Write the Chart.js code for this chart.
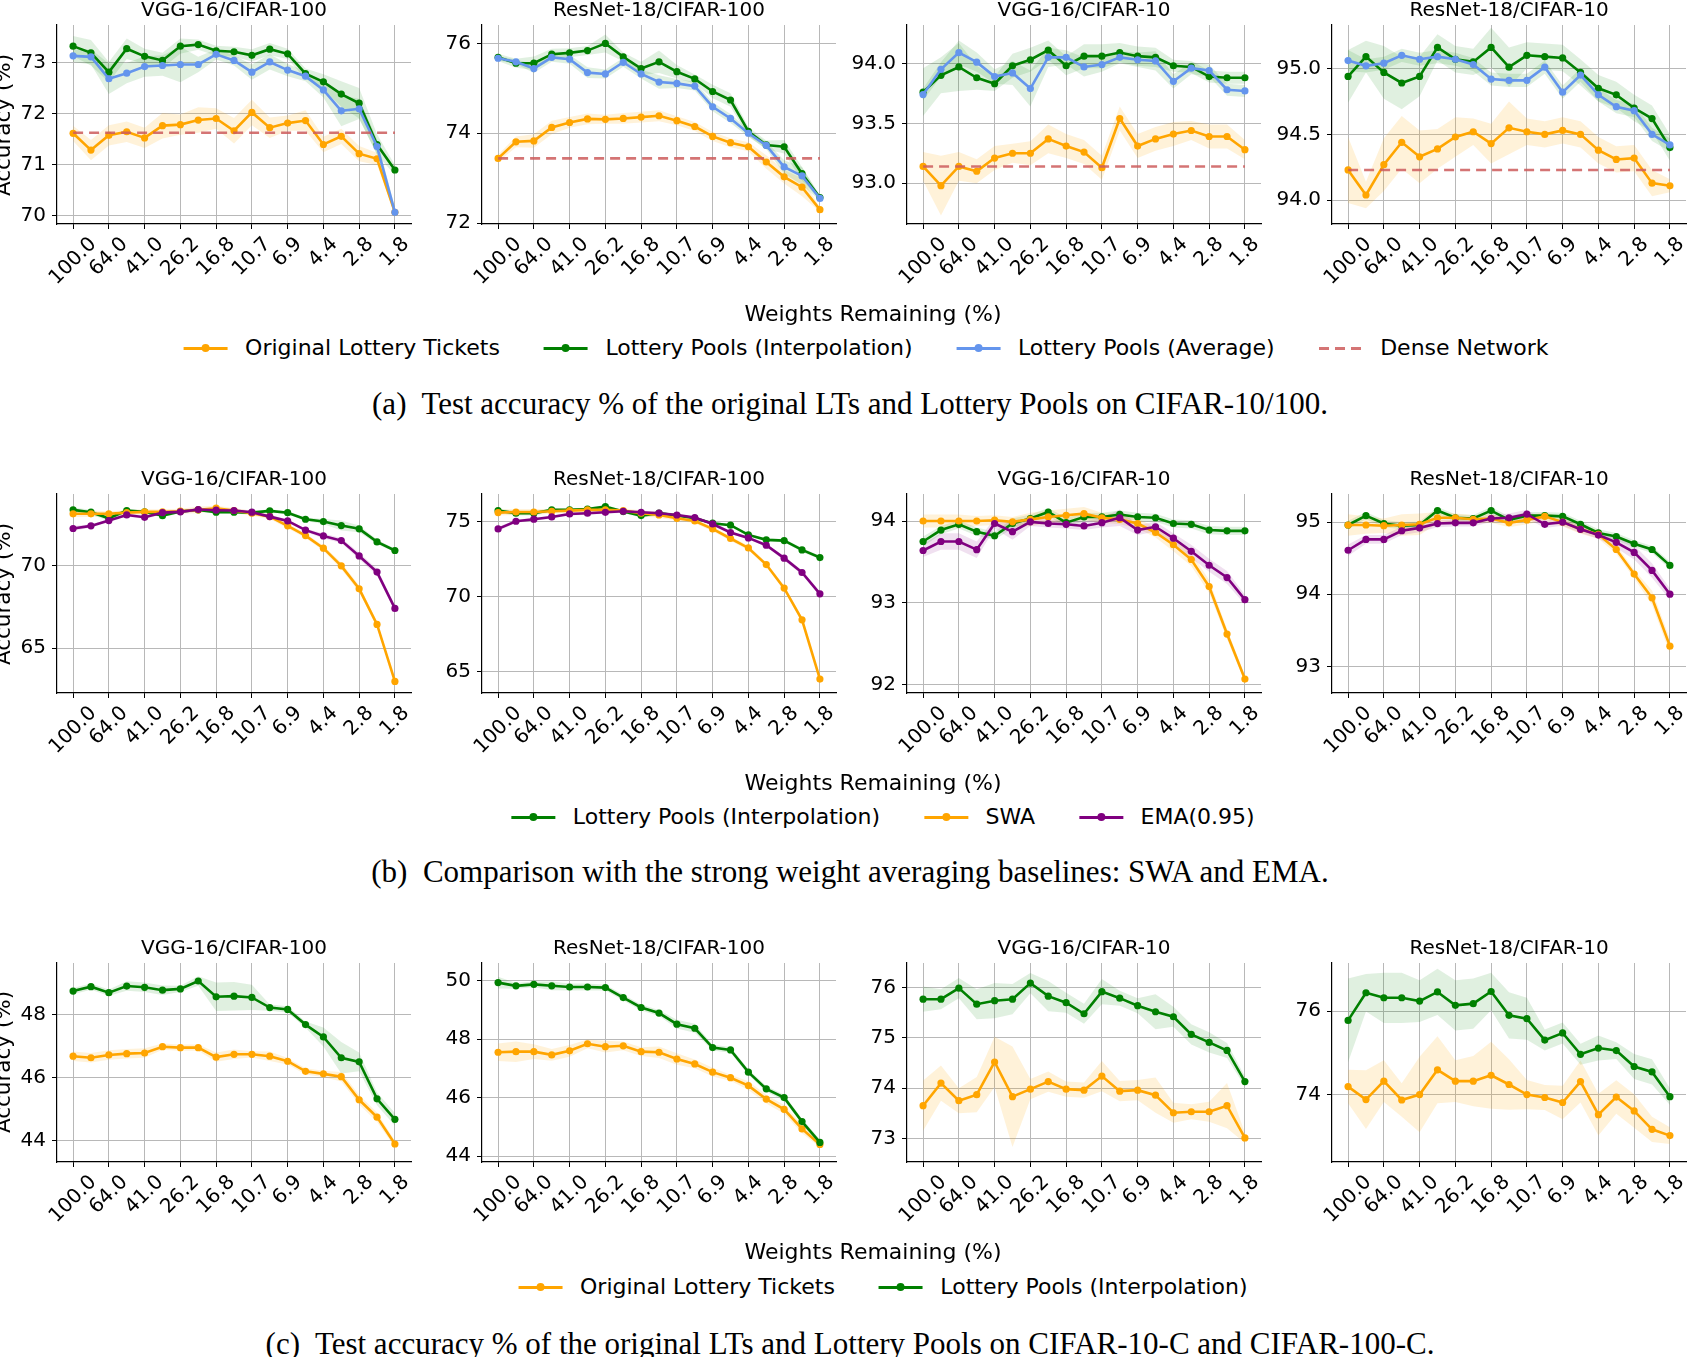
<!DOCTYPE html>
<html>
<head>
<meta charset="utf-8">
<script src="https://cdn.jsdelivr.net/npm/chart.js@4.4.1/dist/chart.umd.min.js"></script>
<style>
body { margin: 0; background: #fff; width: 1701px; height: 1357px; position: relative; overflow: hidden; font-family: "DejaVu Sans", sans-serif; color: #000; }
canvas { position: absolute; }
.txt { position: absolute; white-space: nowrap; font-size: 22px; line-height: 1; transform: translate(-50%, -50%); }
.ylab { position: absolute; white-space: nowrap; font-size: 21.5px; line-height: 1; transform: translate(-50%, -50%) rotate(-90deg); }
.legend { position: absolute; display: flex; align-items: center; white-space: nowrap; font-size: 22px; line-height: 1; transform: translate(-50%, -50%); }
.item { display: flex; align-items: center; margin: 0 22px; }
.handle { position: relative; width: 44px; height: 3px; margin-right: 17.5px; }
.handle .dot { position: absolute; left: 18px; top: -2.5px; width: 8px; height: 8px; border-radius: 50%; }
.caption { position: absolute; white-space: nowrap; font-family: "Liberation Serif", serif; font-size: 31px; line-height: 1; transform: translate(-50%, -50%); }
</style>
</head>
<body>
<script>
// x axis: 19 pruning rounds, every second one gets a label
const xTickIdx = [0, 2, 4, 6, 8, 10, 12, 14, 16, 18];
const xTickLabels = ['100.0', '64.0', '41.0', '26.2', '16.8', '10.7', '6.9', '4.4', '2.8', '1.8'];

// (a) CIFAR-10/100
const a1Interp = [73.33,73.2,72.82,73.28,73.13,73.05,73.33,73.36,73.24,73.22,73.15,73.27,73.18,72.79,72.63,72.39,72.21,71.4,70.9];
const a1Avg    = [73.14,73.12,72.69,72.8,72.93,72.95,72.97,72.97,73.17,73.05,72.82,73.02,72.86,72.74,72.47,72.06,72.1,71.36,70.07];
const a1Orig   = [71.62,71.29,71.58,71.65,71.53,71.77,71.79,71.88,71.91,71.67,72.03,71.73,71.82,71.87,71.4,71.56,71.22,71.12,70.07];
const a1Dense  = 71.63;
const a1InterpSd = [0.2,0.25,0.2,0.2,0.15,0.15,0.15,0.1,0.1,0.1,0.12,0.12,0.1,0.1,0.15,0.25,0.3,0.2,0.1];
const a1AvgSd    = [0.12,0.15,0.3,0.2,0.2,0.2,0.35,0.15,0.1,0.1,0.15,0.15,0.12,0.1,0.15,0.3,0.2,0.15,0.1];
const a1OrigSd   = [0.15,0.2,0.2,0.2,0.2,0.25,0.2,0.25,0.2,0.25,0.25,0.2,0.15,0.2,0.15,0.15,0.15,0.12,0.05];

const a2Interp = [75.69,75.56,75.56,75.76,75.79,75.84,76.0,75.7,75.44,75.59,75.37,75.21,74.93,74.74,74.04,73.74,73.7,73.1,72.57];
const a2Avg    = [75.67,75.59,75.44,75.69,75.65,75.35,75.32,75.58,75.32,75.14,75.11,75.05,74.59,74.33,74.0,73.73,73.25,73.05,72.55];
const a2Orig   = [73.44,73.81,73.83,74.13,74.24,74.32,74.31,74.33,74.36,74.39,74.28,74.15,73.93,73.79,73.7,73.36,73.03,72.8,72.3];
const a2Dense  = 73.44;
const a2InterpSd = [0.08,0.1,0.15,0.12,0.1,0.1,0.2,0.1,0.15,0.25,0.15,0.1,0.15,0.15,0.1,0.1,0.15,0.15,0.05];
const a2AvgSd    = [0.05,0.05,0.1,0.1,0.1,0.12,0.1,0.1,0.1,0.15,0.1,0.1,0.1,0.1,0.08,0.08,0.15,0.2,0.05];
const a2OrigSd   = [0.08,0.12,0.15,0.15,0.12,0.12,0.1,0.12,0.12,0.12,0.1,0.1,0.1,0.1,0.1,0.15,0.15,0.2,0.05];

const a3Interp = [93.76,93.9,93.97,93.88,93.83,93.98,94.03,94.11,93.98,94.06,94.06,94.09,94.06,94.05,93.98,93.97,93.89,93.88,93.88];
const a3Avg    = [93.74,93.95,94.09,94.01,93.89,93.92,93.79,94.05,94.05,93.97,93.99,94.05,94.03,94.02,93.85,93.96,93.94,93.78,93.77];
const a3Orig   = [93.14,92.98,93.14,93.1,93.21,93.25,93.25,93.37,93.31,93.26,93.13,93.54,93.31,93.37,93.41,93.44,93.39,93.39,93.28];
const a3Dense  = 93.14;
const a3InterpSd = [0.2,0.15,0.2,0.1,0.06,0.1,0.1,0.08,0.08,0.1,0.1,0.08,0.08,0.08,0.05,0.05,0.05,0.05,0.05];
const a3AvgSd    = [0.05,0.06,0.1,0.08,0.06,0.1,0.15,0.08,0.06,0.08,0.06,0.05,0.06,0.08,0.06,0.05,0.05,0.05,0.05];
const a3OrigSd   = [0.12,0.25,0.12,0.1,0.1,0.08,0.1,0.12,0.1,0.1,0.1,0.1,0.1,0.1,0.1,0.08,0.1,0.1,0.08];

const a4Interp = [94.94,95.09,94.97,94.89,94.94,95.16,95.07,95.05,95.16,95.01,95.1,95.09,95.08,94.97,94.85,94.8,94.7,94.62,94.4];
const a4Avg    = [95.06,95.02,95.04,95.1,95.07,95.09,95.07,95.03,94.92,94.91,94.91,95.01,94.82,94.95,94.8,94.71,94.68,94.5,94.42];
const a4Orig   = [94.23,94.04,94.27,94.44,94.33,94.39,94.48,94.52,94.43,94.55,94.52,94.5,94.53,94.5,94.38,94.31,94.32,94.13,94.11];
const a4Dense  = 94.23;
const a4InterpSd = [0.2,0.12,0.2,0.2,0.15,0.1,0.1,0.1,0.15,0.15,0.1,0.1,0.1,0.1,0.1,0.1,0.1,0.1,0.1];
const a4AvgSd    = [0.08,0.05,0.05,0.05,0.05,0.05,0.05,0.05,0.05,0.05,0.05,0.05,0.05,0.05,0.05,0.05,0.05,0.05,0.05];
const a4OrigSd   = [0.25,0.1,0.2,0.2,0.2,0.15,0.15,0.1,0.15,0.2,0.1,0.1,0.1,0.1,0.1,0.1,0.1,0.1,0.05];

// (b) SWA / EMA baselines
const b1Interp = [73.37,73.23,72.86,73.33,73.25,73.02,73.27,73.37,73.23,73.23,73.2,73.31,73.2,72.8,72.66,72.42,72.22,71.43,70.91];
const b1Swa    = [73.13,73.13,73.13,73.2,73.25,73.25,73.29,73.37,73.47,73.33,73.17,72.96,72.4,71.81,71.05,69.98,68.59,66.43,62.98];
const b1Ema    = [72.24,72.4,72.72,73.06,72.92,73.2,73.25,73.39,73.35,73.33,73.23,72.96,72.7,72.14,71.79,71.51,70.58,69.6,67.4];
const b1InterpSd = [0.15,0.15,0.15,0.1,0.1,0.1,0.1,0.1,0.1,0.1,0.1,0.1,0.1,0.1,0.15,0.3,0.2,0.15,0.1];
const b1SwaSd    = [0.2,0.2,0.15,0.15,0.15,0.15,0.15,0.2,0.15,0.15,0.15,0.15,0.15,0.15,0.15,0.2,0.2,0.2,0.1];
const b1EmaSd    = [0.15,0.1,0.1,0.1,0.1,0.1,0.1,0.1,0.1,0.1,0.1,0.1,0.1,0.1,0.15,0.15,0.2,0.2,0.2];

const b2Interp = [75.73,75.56,75.56,75.78,75.78,75.84,76.0,75.67,75.4,75.56,75.4,75.22,74.89,74.76,74.11,73.78,73.73,73.11,72.6];
const b2Swa    = [75.6,75.64,75.64,75.69,75.73,75.78,75.78,75.73,75.56,75.44,75.22,75.04,74.51,73.87,73.24,72.13,70.56,68.44,64.49];
const b2Ema    = [74.51,75.02,75.16,75.31,75.51,75.56,75.62,75.69,75.62,75.56,75.44,75.27,74.84,74.27,73.91,73.42,72.56,71.6,70.18];
const b2InterpSd = [0.15,0.15,0.15,0.1,0.1,0.1,0.1,0.1,0.15,0.15,0.1,0.1,0.1,0.1,0.1,0.1,0.1,0.15,0.1];
const b2SwaSd    = [0.2,0.2,0.2,0.15,0.15,0.15,0.15,0.15,0.2,0.2,0.15,0.15,0.15,0.15,0.15,0.15,0.15,0.2,0.1];
const b2EmaSd    = [0.15,0.1,0.1,0.1,0.1,0.1,0.1,0.1,0.1,0.1,0.1,0.1,0.1,0.1,0.1,0.1,0.15,0.15,0.15];

const b3Interp = [93.75,93.89,93.96,93.87,93.82,93.97,94.03,94.11,93.98,94.05,94.05,94.08,94.05,94.04,93.97,93.96,93.89,93.88,93.88];
const b3Swa    = [94.0,94.0,94.0,94.0,94.01,93.99,94.02,94.05,94.07,94.09,94.04,94.02,93.97,93.86,93.71,93.53,93.2,92.62,92.07];
const b3Ema    = [93.64,93.75,93.75,93.65,93.97,93.87,93.99,93.97,93.96,93.94,93.98,94.04,93.89,93.93,93.79,93.63,93.46,93.31,93.04];
const b3InterpSd = [0.06,0.05,0.05,0.05,0.05,0.06,0.05,0.05,0.06,0.05,0.05,0.05,0.05,0.05,0.05,0.05,0.05,0.05,0.05];
const b3SwaSd    = [0.08,0.08,0.08,0.06,0.06,0.06,0.08,0.08,0.08,0.08,0.06,0.06,0.06,0.06,0.08,0.08,0.08,0.06,0.04];
const b3EmaSd    = [0.08,0.1,0.1,0.1,0.06,0.1,0.05,0.05,0.05,0.05,0.06,0.1,0.06,0.06,0.06,0.08,0.08,0.08,0.06];

const b4Interp = [94.96,95.09,94.98,94.95,94.96,95.16,95.06,95.05,95.16,95.03,95.09,95.09,95.08,94.97,94.85,94.8,94.7,94.62,94.4];
const b4Swa    = [94.96,94.96,94.95,94.96,94.97,95.06,95.06,95.04,95.05,94.99,95.03,95.08,95.0,94.9,94.83,94.62,94.28,93.95,93.28];
const b4Ema    = [94.61,94.76,94.76,94.88,94.92,94.98,94.99,94.99,95.05,95.06,95.11,94.97,95.0,94.9,94.82,94.72,94.58,94.33,94.0];
const b4InterpSd = [0.06,0.05,0.05,0.05,0.05,0.05,0.05,0.05,0.05,0.05,0.05,0.05,0.05,0.05,0.05,0.05,0.05,0.05,0.05];
const b4SwaSd    = [0.15,0.12,0.1,0.15,0.15,0.08,0.06,0.06,0.06,0.06,0.06,0.06,0.06,0.06,0.06,0.06,0.06,0.1,0.1];
const b4EmaSd    = [0.08,0.06,0.06,0.06,0.06,0.05,0.05,0.05,0.05,0.06,0.06,0.05,0.05,0.05,0.05,0.08,0.1,0.1,0.08];

// (c) CIFAR-10-C / CIFAR-100-C
const c1Interp = [48.74,48.88,48.69,48.9,48.86,48.77,48.81,49.06,48.56,48.58,48.54,48.22,48.16,47.68,47.29,46.63,46.5,45.33,44.68];
const c1Orig   = [46.68,46.63,46.72,46.76,46.78,46.98,46.95,46.95,46.65,46.74,46.74,46.68,46.52,46.2,46.12,46.03,45.3,44.75,43.9];
const c1InterpSd = [0.1,0.1,0.1,0.15,0.15,0.15,0.1,0.15,0.45,0.45,0.4,0.1,0.1,0.1,0.3,0.5,0.3,0.2,0.2];
const c1OrigSd   = [0.15,0.15,0.15,0.15,0.15,0.1,0.1,0.1,0.15,0.15,0.1,0.15,0.1,0.1,0.1,0.15,0.15,0.15,0.1];

const c2Interp = [49.93,49.82,49.87,49.82,49.78,49.78,49.76,49.42,49.08,48.89,48.51,48.37,47.71,47.63,46.87,46.3,46.0,45.18,44.47];
const c2Orig   = [47.55,47.57,47.57,47.46,47.6,47.84,47.74,47.77,47.57,47.55,47.32,47.15,46.87,46.68,46.41,45.95,45.6,44.93,44.4];
const c2InterpSd = [0.2,0.1,0.1,0.15,0.12,0.12,0.1,0.1,0.1,0.1,0.15,0.15,0.1,0.1,0.1,0.1,0.1,0.1,0.1];
const c2OrigSd   = [0.3,0.35,0.25,0.2,0.2,0.15,0.2,0.15,0.15,0.2,0.2,0.15,0.15,0.1,0.15,0.15,0.15,0.15,0.1];

const c3Interp = [75.77,75.77,75.99,75.67,75.74,75.77,76.09,75.83,75.7,75.48,75.92,75.79,75.64,75.52,75.42,75.07,74.91,74.75,74.13];
const c3Orig   = [73.65,74.1,73.75,73.87,74.52,73.83,73.98,74.13,73.98,73.96,74.24,73.94,73.96,73.86,73.51,73.53,73.53,73.65,73.01];
const c3InterpSd = [0.25,0.2,0.2,0.3,0.35,0.3,0.2,0.3,0.2,0.2,0.25,0.15,0.15,0.35,0.2,0.2,0.2,0.15,0.1];
const c3OrigSd   = [0.5,0.35,0.25,0.35,0.5,1.0,0.2,0.2,0.15,0.15,0.3,0.2,0.2,0.35,0.2,0.15,0.2,0.45,0.1];

const c4Interp = [75.78,76.44,76.32,76.32,76.24,76.46,76.14,76.18,76.47,75.9,75.82,75.31,75.48,74.97,75.12,75.06,74.68,74.55,73.96];
const c4Orig   = [74.2,73.89,74.33,73.88,74.01,74.6,74.33,74.33,74.47,74.25,74.01,73.94,73.82,74.32,73.53,73.95,73.62,73.18,73.03];
const c4InterpSd = [1.0,0.45,0.6,0.6,0.5,0.55,0.6,0.6,0.45,0.55,0.5,0.25,0.25,0.25,0.3,0.2,0.3,0.3,0.2];
const c4OrigSd   = [0.4,0.7,0.5,0.4,0.9,0.8,0.5,0.6,0.8,0.6,0.35,0.3,0.4,0.5,0.5,0.4,0.4,0.3,0.2];

const ORANGE = '#ffa500', GREEN = '#008000', BLUE = '#6495ed', PURPLE = '#800080', RED = 'rgba(205,92,92,0.85)';
const GREEN_FILL = 'rgba(0,128,0,0.12)', ORANGE_FILL = 'rgba(255,165,0,0.15)', PURPLE_FILL = 'rgba(128,0,128,0.12)';

// axes boxes in page pixels
const colLeft = [57.2, 482.2, 906.7, 1332.3];
const rowTop = [25, 494, 963];
const AX_W = 354, AX_H = 199, PAD_L = 80, PAD_T = 40, PAD_R = 24, PAD_B = 80;

function pts(arr) {
    return arr.map((v, i) => ({x: i, y: v}));
}

function series(mean, sd, color, fillColor, order) {
    return [
        {data: pts(mean.map((v, i) => v + sd[i])), borderColor: 'transparent', pointRadius: 0, fill: false, order: order + 10},
        {data: pts(mean.map((v, i) => v - sd[i])), borderColor: 'transparent', pointRadius: 0, fill: '-1', backgroundColor: fillColor, order: order + 10},
        {data: pts(mean), borderColor: color, backgroundColor: color, borderWidth: 2.6, pointRadius: 3.6, pointBorderWidth: 0, fill: false, order: order},
    ];
}

function dense(value) {
    return {data: [{x: 0, y: value}, {x: 18, y: value}], borderColor: RED, borderWidth: 2.6, borderDash: [10, 6], pointRadius: 0, fill: false, order: 0};
}

const panels = [
    {row: 0, col: 0, title: 'VGG-16/CIFAR-100', y: [69.84, 73.745], ticks: [70, 71, 72, 73], dec: 0,
     sets: [...series(a1Orig, a1OrigSd, ORANGE, ORANGE_FILL, 3), ...series(a1Interp, a1InterpSd, GREEN, GREEN_FILL, 2), ...series(a1Avg, a1AvgSd, BLUE, GREEN_FILL, 1), dense(a1Dense)]},
    {row: 0, col: 1, title: 'ResNet-18/CIFAR-100', y: [71.98, 76.41], ticks: [72, 74, 76], dec: 0,
     sets: [...series(a2Orig, a2OrigSd, ORANGE, ORANGE_FILL, 3), ...series(a2Interp, a2InterpSd, GREEN, GREEN_FILL, 2), ...series(a2Avg, a2AvgSd, BLUE, GREEN_FILL, 1), dense(a2Dense)]},
    {row: 0, col: 2, title: 'VGG-16/CIFAR-10', y: [92.66, 94.32], ticks: [93.0, 93.5, 94.0], dec: 1,
     sets: [...series(a3Orig, a3OrigSd, ORANGE, ORANGE_FILL, 3), ...series(a3Interp, a3InterpSd, GREEN, GREEN_FILL, 2), ...series(a3Avg, a3AvgSd, BLUE, GREEN_FILL, 1), dense(a3Dense)]},
    {row: 0, col: 3, title: 'ResNet-18/CIFAR-10', y: [93.82, 95.33], ticks: [94.0, 94.5, 95.0], dec: 1,
     sets: [...series(a4Orig, a4OrigSd, ORANGE, ORANGE_FILL, 3), ...series(a4Interp, a4InterpSd, GREEN, GREEN_FILL, 2), ...series(a4Avg, a4AvgSd, BLUE, GREEN_FILL, 1), dense(a4Dense)]},

    {row: 1, col: 0, title: 'VGG-16/CIFAR-100', y: [62.28, 74.33], ticks: [65, 70], dec: 0,
     sets: [...series(b1Interp, b1InterpSd, GREEN, GREEN_FILL, 3), ...series(b1Swa, b1SwaSd, ORANGE, ORANGE_FILL, 2), ...series(b1Ema, b1EmaSd, PURPLE, PURPLE_FILL, 1)]},
    {row: 1, col: 1, title: 'ResNet-18/CIFAR-100', y: [63.56, 76.84], ticks: [65, 70, 75], dec: 0,
     sets: [...series(b2Interp, b2InterpSd, GREEN, GREEN_FILL, 3), ...series(b2Swa, b2SwaSd, ORANGE, ORANGE_FILL, 2), ...series(b2Ema, b2EmaSd, PURPLE, PURPLE_FILL, 1)]},
    {row: 1, col: 2, title: 'VGG-16/CIFAR-10', y: [91.9, 94.33], ticks: [92, 93, 94], dec: 0,
     sets: [...series(b3Interp, b3InterpSd, GREEN, GREEN_FILL, 3), ...series(b3Swa, b3SwaSd, ORANGE, ORANGE_FILL, 2), ...series(b3Ema, b3EmaSd, PURPLE, PURPLE_FILL, 1)]},
    {row: 1, col: 3, title: 'ResNet-18/CIFAR-10', y: [92.63, 95.39], ticks: [93, 94, 95], dec: 0,
     sets: [...series(b4Interp, b4InterpSd, GREEN, GREEN_FILL, 3), ...series(b4Swa, b4SwaSd, ORANGE, ORANGE_FILL, 2), ...series(b4Ema, b4EmaSd, PURPLE, PURPLE_FILL, 1)]},

    {row: 2, col: 0, title: 'VGG-16/CIFAR-100', y: [43.33, 49.63], ticks: [44, 46, 48], dec: 0,
     sets: [...series(c1Orig, c1OrigSd, ORANGE, ORANGE_FILL, 2), ...series(c1Interp, c1InterpSd, GREEN, GREEN_FILL, 1)]},
    {row: 2, col: 1, title: 'ResNet-18/CIFAR-100', y: [43.8, 50.6], ticks: [44, 46, 48, 50], dec: 0,
     sets: [...series(c2Orig, c2OrigSd, ORANGE, ORANGE_FILL, 2), ...series(c2Interp, c2InterpSd, GREEN, GREEN_FILL, 1)]},
    {row: 2, col: 2, title: 'VGG-16/CIFAR-10', y: [72.53, 76.49], ticks: [73, 74, 75, 76], dec: 0,
     sets: [...series(c3Orig, c3OrigSd, ORANGE, ORANGE_FILL, 2), ...series(c3Interp, c3InterpSd, GREEN, GREEN_FILL, 1)]},
    {row: 2, col: 3, title: 'ResNet-18/CIFAR-10', y: [72.4, 77.15], ticks: [74, 76], dec: 0,
     sets: [...series(c4Orig, c4OrigSd, ORANGE, ORANGE_FILL, 2), ...series(c4Interp, c4InterpSd, GREEN, GREEN_FILL, 1)]},
];

// subplot title and rotated x labels, centred on their ticks like matplotlib
const panelText = {
    id: 'panelText',
    afterDraw(chart, args, opts) {
        const {ctx, chartArea} = chart;
        const xs = chart.scales.x;
        ctx.save();
        ctx.fillStyle = '#000';
        ctx.font = '20px "DejaVu Sans"';
        ctx.textAlign = 'center';
        ctx.textBaseline = 'middle';
        ctx.fillText(opts.title, (chartArea.left + chartArea.right) / 2, chartArea.top - 14);
        const y0 = chartArea.bottom + 9;
        xTickIdx.forEach((v, i) => {
            const label = xTickLabels[i];
            const w = ctx.measureText(label).width;
            ctx.save();
            ctx.translate(xs.getPixelForValue(v), y0 + (w + 23) * Math.SQRT1_2 / 2);
            ctx.rotate(-Math.PI / 4);
            ctx.fillText(label, 0, 0);
            ctx.restore();
        });
        ctx.restore();
    }
};

const gridOpts = {color: '#b8b8b8', lineWidth: 1, tickLength: 5, tickColor: '#000', drawTicks: true};
const borderOpts = {color: '#000', width: 1.2};

panels.forEach(p => {
    const canvas = document.createElement('canvas');
    canvas.width = PAD_L + AX_W + PAD_R;
    canvas.height = PAD_T + AX_H + PAD_B;
    canvas.style.left = (colLeft[p.col] - PAD_L) + 'px';
    canvas.style.top = (rowTop[p.row] - PAD_T) + 'px';
    document.body.appendChild(canvas);

    new Chart(canvas, {
        type: 'line',
        data: {datasets: p.sets},
        plugins: [panelText],
        options: {
            responsive: false,
            animation: false,
            events: [],
            layout: {padding: {left: 0, top: PAD_T, right: PAD_R, bottom: 0}},
            plugins: {
                legend: {display: false},
                tooltip: {enabled: false},
                panelText: {title: p.title},
            },
            scales: {
                x: {
                    type: 'linear', min: -0.9, max: 18.9,
                    afterBuildTicks: ax => { ax.ticks = xTickIdx.map(v => ({value: v})); },
                    afterFit: ax => { ax.height = PAD_B; },
                    ticks: {display: false},
                    grid: gridOpts, border: borderOpts,
                },
                y: {
                    type: 'linear', min: p.y[0], max: p.y[1],
                    afterBuildTicks: ax => { ax.ticks = p.ticks.map(v => ({value: v})); },
                    afterFit: ax => { ax.width = PAD_L; },
                    ticks: {font: {family: 'DejaVu Sans', size: 20}, color: '#000', padding: 6,
                            callback: v => Number(v).toFixed(p.dec)},
                    grid: gridOpts, border: borderOpts,
                }
            }
        }
    });
});

// page text: axis labels, legends and captions
function addDiv(cls, html, x, y) {
    const d = document.createElement('div');
    d.className = cls;
    d.innerHTML = html;
    d.style.left = x + 'px';
    d.style.top = y + 'px';
    document.body.appendChild(d);
}

function legendItem(label, color, dashed) {
    const line = dashed
        ? `<div class="handle" style="background:repeating-linear-gradient(to right, ${color} 0 10px, transparent 10px 16px)"></div>`
        : `<div class="handle" style="background:${color}"><div class="dot" style="background:${color}"></div></div>`;
    return `<div class="item">${line}<span>${label}</span></div>`;
}

const xLabelY = [314, 783, 1252];
const yLabelY = [125, 594, 1062];
xLabelY.forEach(y => addDiv('txt', 'Weights Remaining (%)', 873, y));
yLabelY.forEach(y => addDiv('ylab', 'Accuracy (%)', 2.6, y));

addDiv('legend', legendItem('Original Lottery Tickets', ORANGE) + legendItem('Lottery Pools (Interpolation)', GREEN) +
    legendItem('Lottery Pools (Average)', BLUE) + legendItem('Dense Network', RED, true), 866, 348);
addDiv('legend', legendItem('Lottery Pools (Interpolation)', GREEN) + legendItem('SWA', ORANGE) +
    legendItem('EMA(0.95)', PURPLE), 883, 817);
addDiv('legend', legendItem('Original Lottery Tickets', ORANGE) + legendItem('Lottery Pools (Interpolation)', GREEN), 883, 1287);

addDiv('caption', '(a)&nbsp; Test accuracy % of the original LTs and Lottery Pools on CIFAR-10/100.', 850, 403);
addDiv('caption', '(b)&nbsp; Comparison with the strong weight averaging baselines: SWA and EMA.', 850, 871);
addDiv('caption', '(c)&nbsp; Test accuracy % of the original LTs and Lottery Pools on CIFAR-10-C and CIFAR-100-C.', 850, 1343);
</script>
</body>
</html>
